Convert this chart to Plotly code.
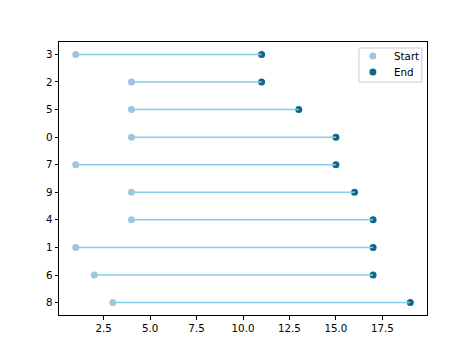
import plotly.graph_objects as go

categories = ["8", "6", "1", "4", "9", "7", "0", "5", "2", "3"]
start_values = [3, 2, 1, 4, 4, 1, 4, 4, 4, 1]
end_values = [19, 17, 17, 17, 16, 15, 15, 13, 11, 11]
x_ticks = [2.5, 5.0, 7.5, 10.0, 12.5, 15.0, 17.5]
series_names = ["Start", "End"]
series_colors = ["#a3c4dc", "#0e668b"]

ypos = list(range(len(categories)))

line_x, line_y = [], []
for i, (s, e) in enumerate(zip(start_values, end_values)):
    line_x += [s, e, None]
    line_y += [i, i, None]

fig = go.Figure()
fig.add_trace(go.Scatter(x=start_values, y=ypos, mode="markers", name=series_names[0],
                         showlegend=False,
                         marker=dict(color=series_colors[0], size=7, line=dict(width=0))))
fig.add_trace(go.Scatter(x=end_values, y=ypos, mode="markers", name=series_names[1],
                         showlegend=False,
                         marker=dict(color=series_colors[1], size=7, line=dict(width=0))))
fig.add_trace(go.Scatter(x=line_x, y=line_y, mode="lines", showlegend=False,
                         line=dict(color="skyblue", width=1.5), hoverinfo="skip"))

axis_common = dict(showline=True, linecolor="black", linewidth=1, mirror=True,
                   ticks="outside", ticklen=3.5, tickcolor="black", showgrid=False,
                   zeroline=False)
fig.update_xaxes(range=[0.1, 19.9], tickvals=x_ticks, tickformat=".1f", **axis_common)
fig.update_yaxes(range=[-0.45, 9.45], tickvals=ypos, ticktext=categories, **axis_common)

# Matplotlib-style legend box drawn in paper coordinates
PW, PH = 368.0, 273.0  # plot area size in px
fig.add_shape(type="rect", xref="paper", yref="paper",
              x0=0.815, x1=0.986, y0=0.853, y1=0.978,
              line=dict(color="#cccccc", width=1), fillcolor="rgba(255,255,255,0.8)")
r = 3.5
for name, color, yc in zip(series_names, series_colors, [0.949, 0.890]):
    fig.add_shape(type="circle", xref="paper", yref="paper",
                  x0=0.853 - r / PW, x1=0.853 + r / PW,
                  y0=yc - r / PH, y1=yc + r / PH,
                  line=dict(width=0), fillcolor=color)
    fig.add_annotation(x=0.906, y=yc, xref="paper", yref="paper", text=name,
                       showarrow=False, xanchor="left", yanchor="middle",
                       font=dict(size=10.3, color="black"))

# page body has an 8px default margin, so the figure is sized to fit inside it
fig.update_layout(
    width=458, height=339,
    margin=dict(l=51, r=39, t=34, b=32),
    plot_bgcolor="white", paper_bgcolor="white",
    font=dict(family="DejaVu Sans", size=10.3, color="black"),
    showlegend=False,
)

fig.write_html("out.html")
